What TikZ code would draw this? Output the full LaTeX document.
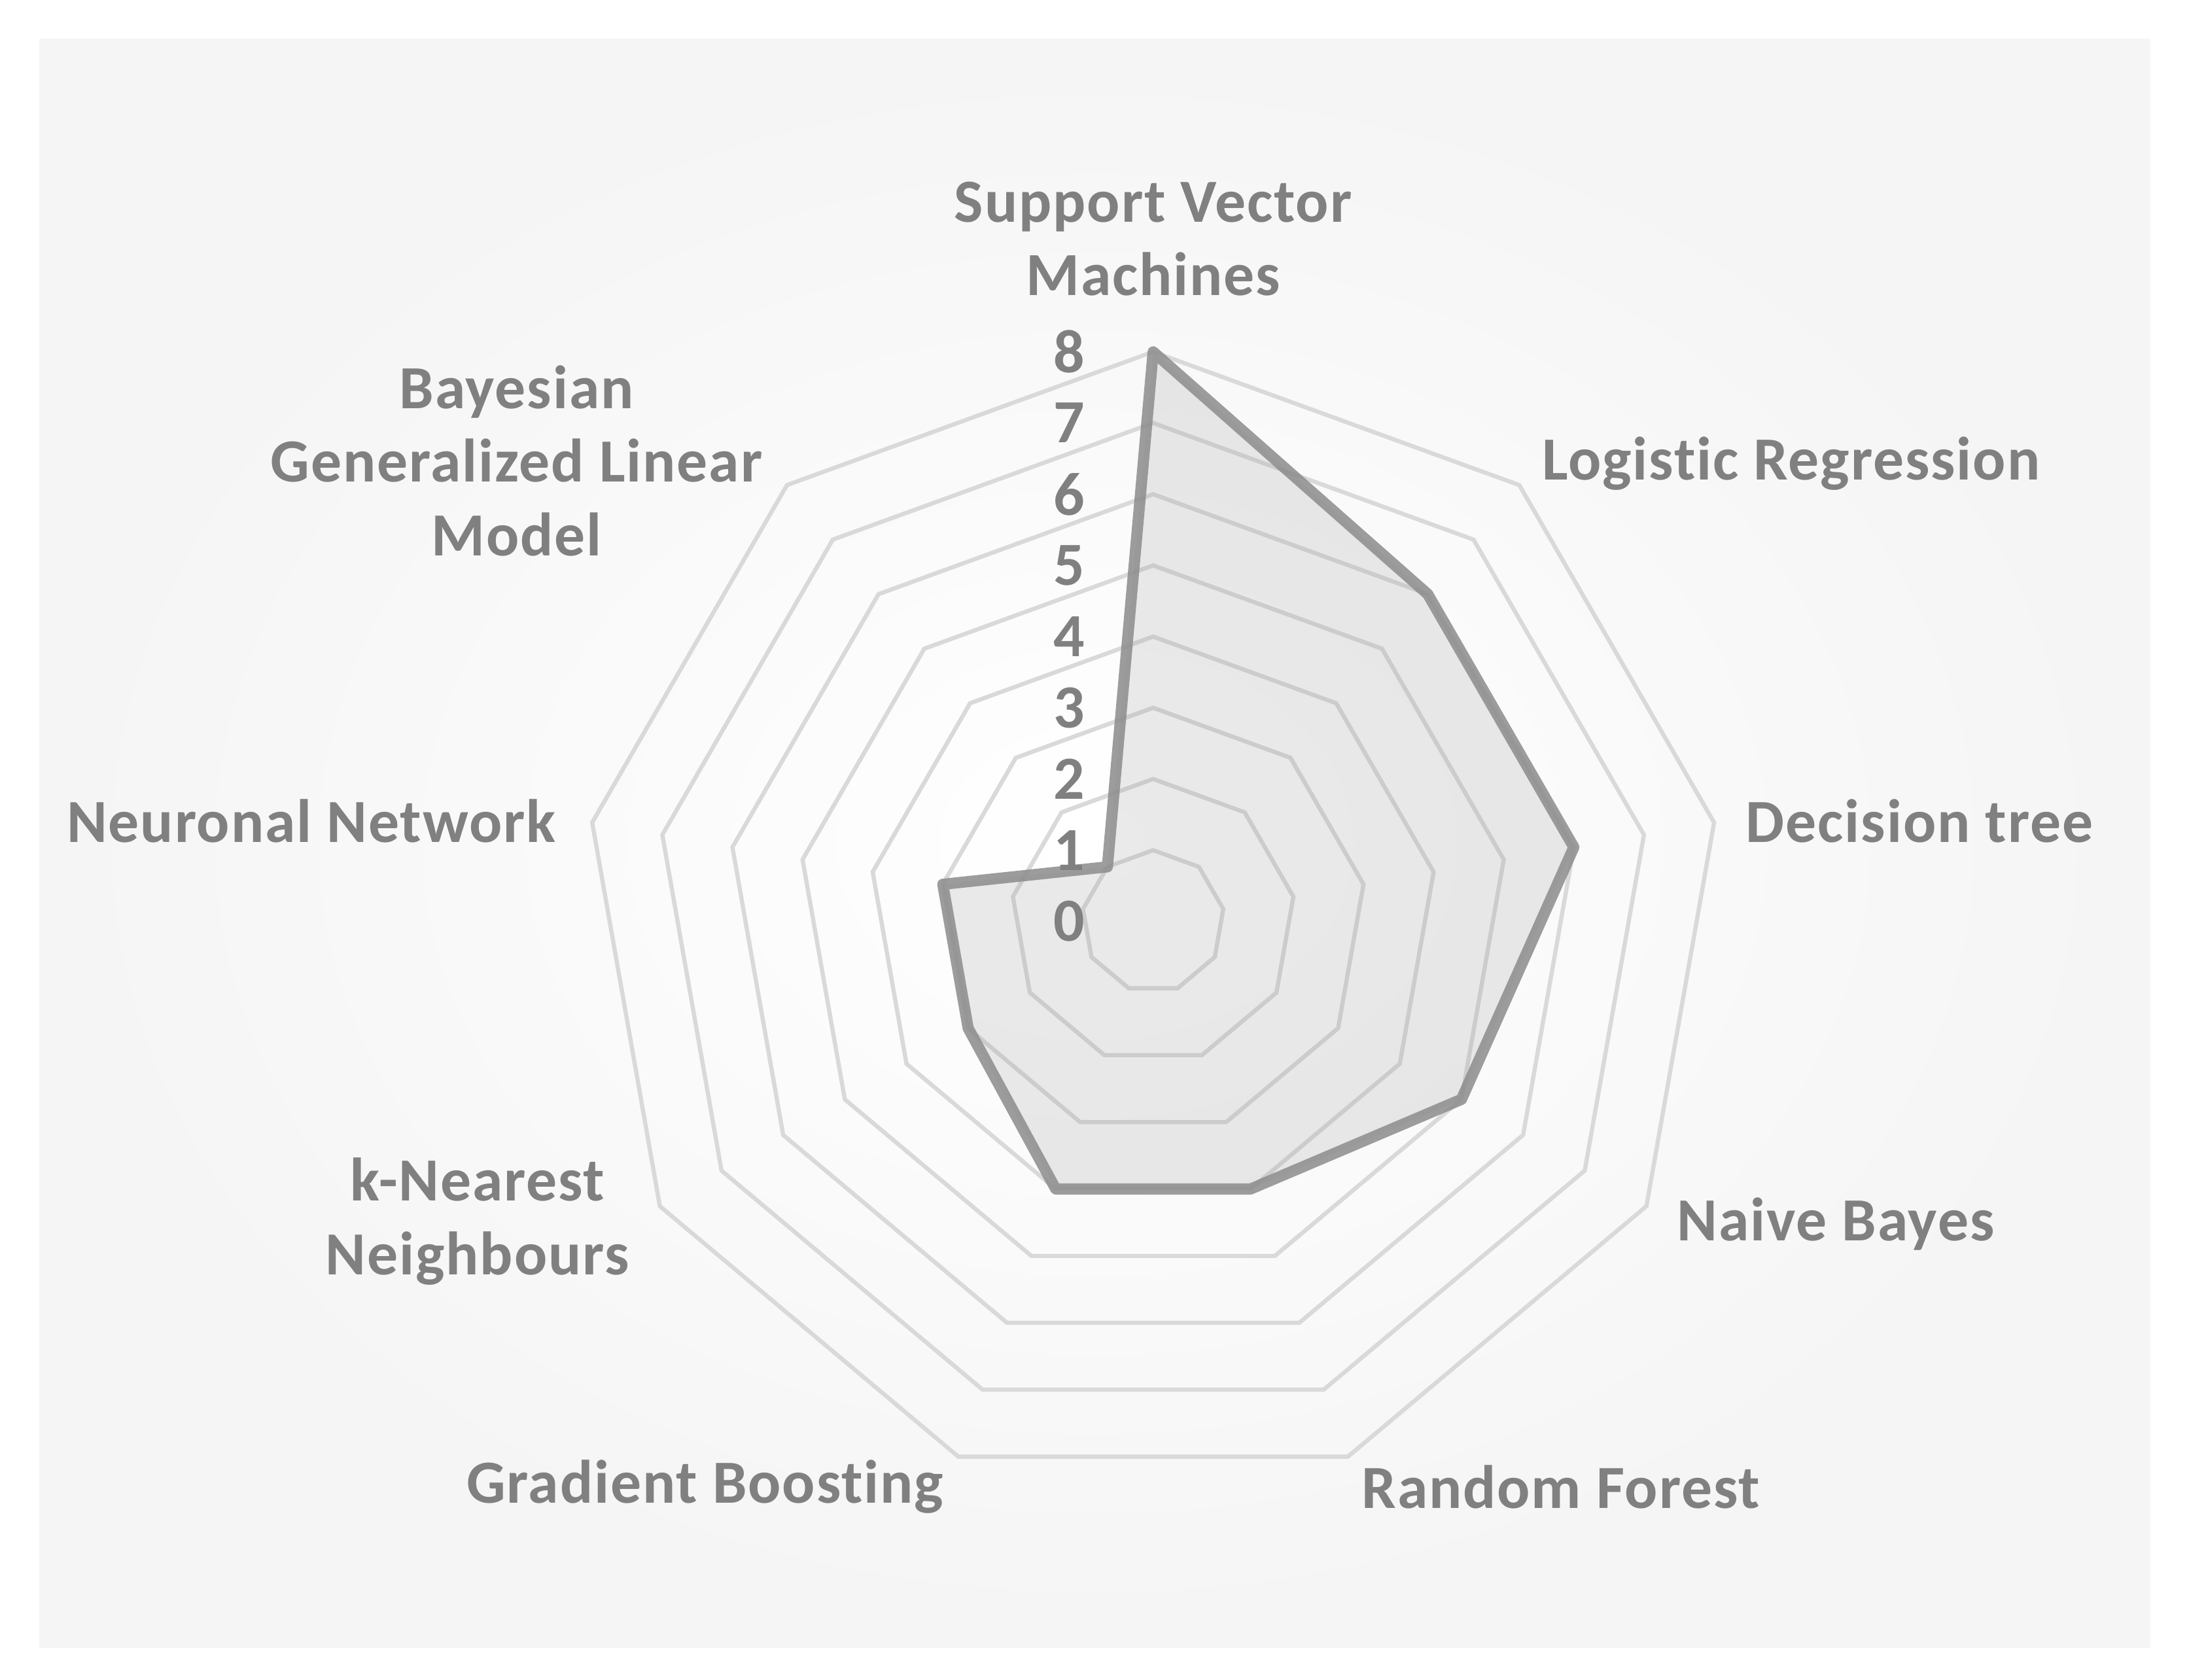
\documentclass[tikz,border=0pt]{standalone}
\usepackage{fontspec}
\setmainfont[Ligatures=NoCommon,LetterSpace=2]{Carlito}
\begin{document}
\begin{tikzpicture}[x=0.02cm,y=-0.02cm,
  lab/.style={font=\fontsize{25}{30}\selectfont\bfseries, text=black!50, align=center, inner sep=0},
  grid/.style={draw=black!15, line width=0.06cm}]
\useasboundingbox (0,0) rectangle (1568,1203);
\fill[white] (0,0) rectangle (1568,1203);
\shade[inner color=white, outer color=black!4] (28,28) rectangle (1540,1180);
\def\cx{826}\def\cy{660}\def\u{51}
\foreach \r in {1,...,8}{
  \draw[grid] ({\cx},{\cy-\u*\r}) \foreach \k in {1,...,8}{ -- ({\cx+\u*\r*sin(40*\k)},{\cy-\u*\r*cos(40*\k)}) } -- cycle;
}
\draw[fill=black!40, fill opacity=0.2, draw=black!45, draw opacity=0.85, line width=0.16cm, line join=round]
  ({\cx+\u*8*sin(0)},{\cy-\u*8*cos(0)}) coordinate (p0)
  -- ({\cx+\u*6*sin(40)},{\cy-\u*6*cos(40)}) coordinate (p1)
  -- ({\cx+\u*6*sin(80)},{\cy-\u*6*cos(80)}) coordinate (p2)
  -- ({\cx+\u*5*sin(120)},{\cy-\u*5*cos(120)}) coordinate (p3)
  -- ({\cx+\u*4*sin(160)},{\cy-\u*4*cos(160)}) coordinate (p4)
  -- ({\cx+\u*4*sin(200)},{\cy-\u*4*cos(200)}) coordinate (p5)
  -- ({\cx+\u*3*sin(240)},{\cy-\u*3*cos(240)}) coordinate (p6)
  -- ({\cx+\u*3*sin(280)},{\cy-\u*3*cos(280)}) coordinate (p7)
  -- ({\cx+\u*1*sin(320)},{\cy-\u*1*cos(320)}) coordinate (p8)
  -- cycle;
\foreach \r in {0,...,8}{
  \node[lab] (t\r) at (766,{\cy-\u*\r}) {\r};
}
\node[lab] (l0) at (826,171) {Support Vector\\Machines};
\node[lab] (l1) at (1283,332) {Logistic Regression};
\node[lab] (l2) at (1375,588) {Decision tree};
\node[lab] (l3) at (1315,877) {Naive Bayes};
\node[lab] (l4) at (1118,1065) {Random Forest};
\node[lab] (l5) at (505,1065) {Gradient Boosting};
\node[lab] (l6) at (342,875) {k-Nearest\\Neighbours};
\node[lab] (l7) at (223,588) {Neuronal Network};
\node[lab] (l8) at (370,330) {Bayesian\\Generalized Linear\\Model};
\end{tikzpicture}
\end{document}
